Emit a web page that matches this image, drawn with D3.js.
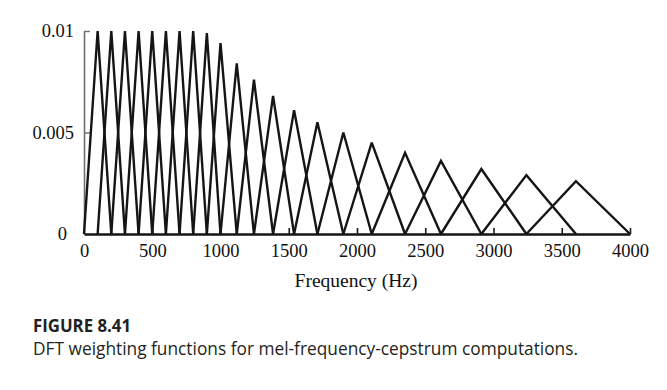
<!DOCTYPE html>
<html>
<head>
<meta charset="utf-8">
<script src="https://cdn.jsdelivr.net/npm/d3@7/dist/d3.min.js"></script>
<style>
  html, body { margin: 0; padding: 0; background: #fff; }
  svg { display: block; }
</style>
</head>
<body>
<div id="chart"></div>
<script>
// Filter peak frequencies (Hz)
const centers = [100, 200, 300, 400, 500, 600, 700, 800, 900, 1000,
                 1119, 1245, 1385, 1539, 1710, 1900, 2108, 2352, 2615, 2911, 3241, 3604];
// Peak heights
const heights = [0.0100, 0.0100, 0.0100, 0.0100, 0.0100, 0.0100, 0.0100, 0.0100, 0.0099, 0.0094,
                 0.0084, 0.0076, 0.0068, 0.0061, 0.0055, 0.0050, 0.0045, 0.0040, 0.0036, 0.0032, 0.0029, 0.0026];
// Outer band edges
const bandStart = 0;
const bandEnd = 4000;
const xTicks = [0, 500, 1000, 1500, 2000, 2500, 3000, 3500, 4000];
const yTicks = [0, 0.005, 0.01];
const yTickLabels = ["0", "0.005", "0.01"];
const xTitle = "Frequency (Hz)";
const figLabel = "FIGURE 8.41";
const figCaption = "DFT weighting functions for mel-frequency-cepstrum computations.";

const W = 667, H = 390;
const svg = d3.select("#chart").append("svg").attr("width", W).attr("height", H);

const x = d3.scaleLinear().domain([0, 4000]).range([84, 630]);
const y = d3.scaleLinear().domain([0, 0.01]).range([234, 31]);

const serif = "'Liberation Serif', 'DejaVu Serif', serif";

// y axis
const yAxis = svg.append("g").attr("transform", `translate(${x(0)},0)`)
  .call(d3.axisLeft(y).tickValues(yTicks).tickFormat((d, i) => yTickLabels[i])
        .tickSize(-6).tickSizeOuter(0).tickPadding(10));
yAxis.select(".domain").attr("stroke", "#6e6e6e").attr("stroke-width", 1.6);
yAxis.selectAll(".tick line").attr("stroke", "#6e6e6e").attr("stroke-width", 1.4);
yAxis.selectAll(".tick text").attr("font-family", serif).attr("font-size", 18.5).attr("fill", "#111");
yAxis.selectAll(".tick").filter(d => d === 0).select("text").attr("x", -17);
yAxis.selectAll(".tick").filter(d => d === 0).select("line").remove();

// triangles
const edges = [bandStart].concat(centers, [bandEnd]);
const line = d3.line().x(d => x(d[0])).y(d => y(d[1]));
const tri = centers.map((c, i) => [[edges[i], 0], [c, heights[i]], [edges[i + 2], 0]]);
svg.append("g").selectAll("path").data(tri).join("path")
  .attr("d", line)
  .attr("fill", "none")
  .attr("stroke", "#151515")
  .attr("stroke-width", 2.4)
  .attr("stroke-linejoin", "miter")
  .attr("stroke-miterlimit", 3);

// x axis
const xAxis = svg.append("g").attr("transform", `translate(0,${y(0)})`)
  .call(d3.axisBottom(x).tickValues(xTicks).tickFormat(d3.format("d"))
        .tickSize(-6).tickSizeOuter(0).tickPadding(10));
xAxis.select(".domain").attr("stroke", "#151515").attr("stroke-width", 2.6);
xAxis.selectAll(".tick line").attr("stroke", "#1a1a1a").attr("stroke-width", 1.6);
xAxis.selectAll(".tick").filter(d => d === 0).select("line").remove();
xAxis.selectAll(".tick text").attr("font-family", serif).attr("font-size", 18.5).attr("fill", "#111");

// x title
svg.append("text").attr("x", 356).attr("y", 286.5).attr("text-anchor", "middle")
  .attr("font-family", serif).attr("font-size", 19.5).attr("fill", "#111").text(xTitle);

// caption
const sans = "'Open Sans', 'Noto Sans', sans-serif";
svg.append("text").attr("x", 33).attr("y", 331.5)
  .attr("font-family", sans).attr("font-weight", "bold").attr("font-size", 18.5)
  .attr("fill", "#231f20").attr("textLength", 98).attr("lengthAdjust", "spacingAndGlyphs")
  .text(figLabel);
svg.append("text").attr("x", 33).attr("y", 355)
  .attr("font-family", sans).attr("font-size", 17.5)
  .attr("fill", "#231f20").attr("textLength", 545).attr("lengthAdjust", "spacingAndGlyphs")
  .text(figCaption);
</script>
</body>
</html>
